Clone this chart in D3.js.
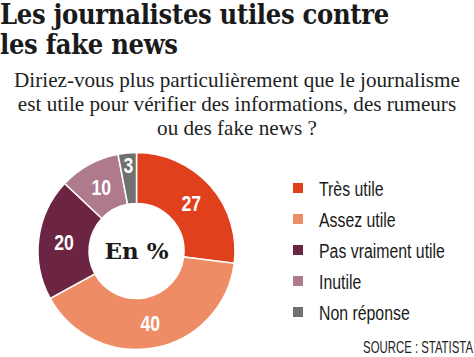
<!DOCTYPE html>
<html><head><meta charset="utf-8">
<script src="https://cdn.jsdelivr.net/npm/d3@7"></script>
<style>
html,body{margin:0;padding:0;background:#fff;}
svg{display:block;}
</style></head>
<body>
<svg id="chart" width="474" height="357"></svg>
<script>
const titleLines = ["Les journalistes utiles contre", "les fake news"];
const subtitleLines = ["Diriez-vous plus particulièrement que le journalisme",
  "est utile pour vérifier des informations, des rumeurs",
  "ou des fake news ?"];
const categories = ["Très utile", "Assez utile", "Pas vraiment utile", "Inutile", "Non réponse"];
const values = [27, 40, 20, 10, 3];
const colors = ["#e0401c", "#ee8c66", "#6b2543", "#b07a8d", "#707070"];
const centerLabel = "En %";
const sourceText = "SOURCE : STATISTA";

const svg = d3.select("#chart");

function fit(sel, target) {
  sel.each(function() {
    const len = this.getComputedTextLength();
    const fs = parseFloat(this.getAttribute("font-size"));
    this.setAttribute("font-size", (fs * target / len).toFixed(2));
  });
}

// Title
const serifBold = "'DejaVu Serif', serif";
const t = svg.append("g");
t.selectAll("text").data(titleLines).join("text")
  .attr("x", 0).attr("y", (d, i) => 24 + i * 30)
  .attr("font-family", serifBold).attr("font-weight", "bold")
  .attr("font-stretch", "condensed")
  .attr("font-size", 24).attr("fill", "#1a1a1a")
  .style("letter-spacing", "-0.3px")
  .text(d => d);
fit(t.select("text"), 388);
t.selectAll("text").attr("font-size", t.select("text").attr("font-size"));

// Subtitle
const st = svg.append("g");
st.selectAll("text").data(subtitleLines).join("text")
  .attr("x", 237).attr("y", (d, i) => 87 + i * 24)
  .attr("text-anchor", "middle")
  .attr("font-family", "'Liberation Serif', serif")
  .attr("font-size", 20).attr("fill", "#1e1e1e")
  .text(d => d);
fit(st.select("text"), 446);
st.selectAll("text").attr("font-size", st.select("text").attr("font-size"));

// Donut
const cx = 136.5, cy = 251, rOuter = 98.5, rInner = 47.5;
const arcs = d3.pie().sort(null).value(d => d)(values);
const arc = d3.arc().innerRadius(rInner).outerRadius(rOuter);
const g = svg.append("g").attr("transform", `translate(${cx},${cy})`);
g.selectAll("path.slice").data(arcs).join("path")
  .attr("class", "slice")
  .attr("d", arc)
  .attr("fill", (d, i) => colors[i])
  .attr("stroke", "#fff").attr("stroke-width", 1.5);

const sans = "'Liberation Sans', Arial, sans-serif";
const labelArc = d3.arc().innerRadius(73).outerRadius(73);
const smallArc = d3.arc().innerRadius(86).outerRadius(86);
const vl = g.append("g");
arcs.forEach((a, i) => {
  const c = (values[i] < 5 ? smallArc : labelArc).centroid(a);
  vl.append("text")
    .attr("transform", `translate(${c[0]},${c[1]}) scale(0.8,1)`)
    .attr("text-anchor", "middle").attr("dy", "0.36em")
    .attr("font-family", sans).attr("font-weight", "bold")
    .attr("font-size", 22).attr("fill", "#fff")
    .text(String(values[i]));
});

g.append("text").attr("text-anchor", "middle").attr("y", 8)
  .attr("font-family", serifBold).attr("font-weight", "bold")
  .attr("font-size", 23).attr("fill", "#1a1a1a")
  .text(centerLabel);

// Legend
const leg = svg.append("g");
const ly = d3.scalePoint().domain(categories).range([188, 312]);
const items = leg.selectAll("g").data(categories).join("g")
  .attr("transform", d => `translate(293,${ly(d)})`);
items.append("rect").attr("x", 0).attr("y", -5).attr("width", 10).attr("height", 10)
  .attr("fill", (d, i) => colors[i]);
const lt = items.append("text")
  .attr("dy", "0.36em")
  .attr("font-family", sans).attr("font-size", 21).attr("fill", "#1a1a1a")
  .text(d => d);
const longest = lt.filter(d => d === "Pas vraiment utile").node().getComputedTextLength();
const sx = 126 / longest;
lt.attr("transform", `translate(26,0) scale(${sx.toFixed(3)},1)`);

// Source
const src = svg.append("text")
  .attr("text-anchor", "end")
  .attr("font-family", sans).attr("font-size", 16).attr("fill", "#222")
  .text(sourceText);
const srcLen = src.node().getComputedTextLength();
src.attr("transform", `translate(473,353) scale(${(110 / srcLen).toFixed(3)},1)`);
</script>
</body></html>
